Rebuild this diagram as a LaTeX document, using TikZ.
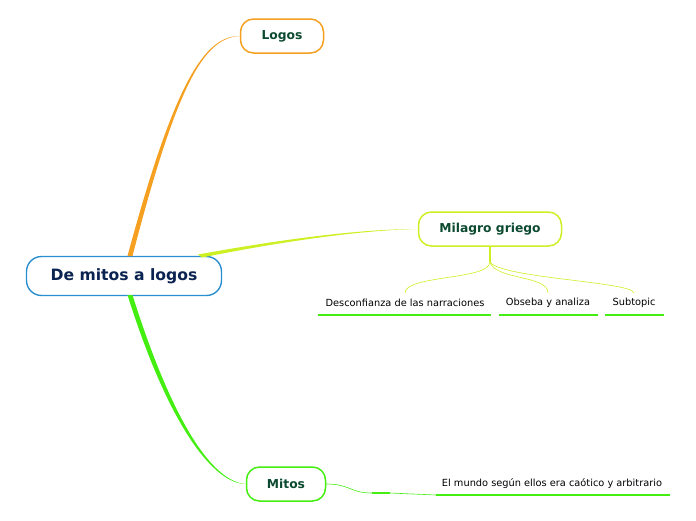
\documentclass[tikz,border=0pt]{standalone}
\usepackage{fontspec}
\setmainfont{DejaVu Sans}
\definecolor{org}{HTML}{F5A020}
\definecolor{ylg}{HTML}{CCF024}
\definecolor{grn}{HTML}{44EE11}
\definecolor{ctr}{HTML}{2A8FD0}
\definecolor{dtxt}{HTML}{0B4A2F}
\definecolor{btxt}{HTML}{0A2350}
\begin{document}
\begin{tikzpicture}[x=1pt,y=-1pt,
  topic/.style={draw,line width=1.5pt,rounded corners=13pt,fill=white,font=\bfseries\fontsize{12.3}{14}\selectfont,text=dtxt},
  sub/.style={font=\fontsize{9.8}{11}\selectfont,inner sep=1pt}]
\useasboundingbox (0,0) rectangle (696,520);
\node[draw=ctr,line width=1.4pt,rounded corners=15pt,minimum width=195pt,minimum height=39pt,fill=white,font=\bfseries\fontsize{15.6}{18}\selectfont,text=btxt] (c) at (124,276) {De mitos a logos};
\node[topic,draw=org,minimum width=83pt,minimum height=34pt] (lg) at (282,36) {Logos};
\node[topic,draw=ylg,minimum width=143pt,minimum height=34pt] (mg) at (490,229) {Milagro griego};
\node[topic,draw=grn,minimum width=79pt,minimum height=34pt] (mt) at (286,484) {Mitos};
\fill[org] (127.5,256) .. controls (175,80) and (205,36) .. (lg.west) .. controls (205,38) and (178,80) .. (132.5,256) -- cycle;
\fill[ylg] (198,254.5) .. controls (300,236) and (370,229) .. (mg.west) .. controls (370,230) and (300,238) .. (202,257.5) -- cycle;
\fill[grn] (127.5,295) .. controls (170,430) and (215,484) .. (mt.west) .. controls (215,482) and (175,430) .. (132.5,295) -- cycle;
\node[sub] (s1) at (405,303) {Desconfianza de las narraciones};
\node[sub] (s2) at (548,303) {Obseba y analiza};
\node[sub] (s3) at (634,303) {Subtopic};
\coordinate (j) at (490,262);
\draw[ylg,line width=1.2pt] (mg.south) -- (j);
\draw[ylg,line width=0.6pt] (j) .. controls (490,280) and (405,275) .. (405,293);
\draw[ylg,line width=0.6pt] (j) .. controls (495,280) and (548,275) .. (548,293);
\draw[ylg,line width=0.6pt] (j) .. controls (500,278) and (634,282) .. (634,293);
\draw[grn,line width=2.2pt] (318,315) -- (491,315);
\draw[grn,line width=2.2pt] (499,315) -- (598,315);
\draw[grn,line width=2.2pt] (605,315) -- (664,315);
\node[sub] (m1) at (552,484) {El mundo según ellos era caótico y arbitrario};
\coordinate (a) at (372,493);
\coordinate (b) at (390,493);
\coordinate (d) at (436,495);
\coordinate (e) at (670,495);
\draw[grn,line width=0.6pt] (mt.east) .. controls (350,484) and (350,493) .. (a);
\draw[grn,line width=2.2pt] (a) -- (b);
\draw[grn,line width=0.6pt] (b) -- (d);
\draw[grn,line width=2.4pt] (d) -- (e);
\end{tikzpicture}
\end{document}
